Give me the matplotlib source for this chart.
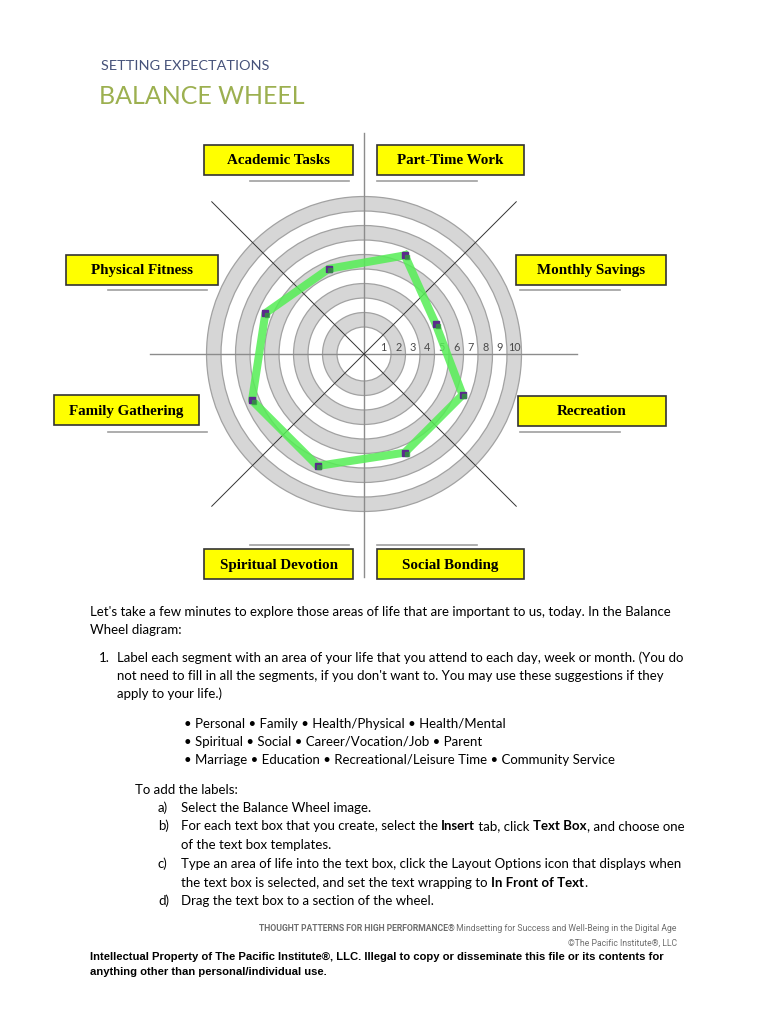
import matplotlib

matplotlib.use("Agg")

import matplotlib.pyplot as plt
import numpy as np
from matplotlib.patches import Circle, Rectangle

# wheel data: sectors clockwise from 12 o'clock, score 1-10 per sector
categories = [
    "Part-Time Work",
    "Monthly Savings",
    "Recreation",
    "Social Bonding",
    "Spiritual Devotion",
    "Family Gathering",
    "Physical Fitness",
    "Academic Tasks",
]
scores = [7, 5, 7, 7, 8, 8, 7, 6]
ring_numbers = [1, 2, 3, 4, 5, 6, 7, 8, 9, 10]

title_small = "SETTING EXPECTATIONS"
title_big = "BALANCE WHEEL"

intro_lines = [
    "Let's take a few minutes to explore those areas of life that are important to us, today. In the Balance",
    "Wheel diagram:",
]
item1_lines = [
    "Label each segment with an area of your life that you attend to each day, week or month. (You do",
    "not need to fill in all the segments, if you don't want to. You may use these suggestions if they",
    "apply to your life.)",
]
suggestion_lines = [
    "\u2022 Personal \u2022 Family \u2022 Health/Physical \u2022 Health/Mental",
    "\u2022 Spiritual \u2022 Social \u2022 Career/Vocation/Job \u2022 Parent",
    "\u2022 Marriage \u2022 Education \u2022 Recreational/Leisure Time \u2022 Community Service",
]
steps_heading = "To add the labels:"
# each step: marker, list of lines, each line a list of (text, bold)
steps = [
    ("a)", [[("Select the Balance Wheel image.", False)]]),
    ("b)", [[("For each text box that you create, select the ", False), ("Insert", True),
             (" tab, click ", False), ("Text Box", True), (", and choose one", False)],
            [("of the text box templates.", False)]]),
    ("c)", [[("Type an area of life into the text box, click the Layout Options icon that displays when", False)],
            [("the text box is selected, and set the text wrapping to ", False), ("In Front of Text", True),
             (".", False)]]),
    ("d)", [[("Drag the text box to a section of the wheel.", False)]]),
]
footer_brand = [("THOUGHT PATTERNS FOR HIGH PERFORMANCE\u00ae", True),
                (" Mindsetting for Success and Well-Being in the Digital Age", False)]
footer_owner = "\u00a9The Pacific Institute\u00ae, LLC"
legal_lines = [
    "Intellectual Property of The Pacific Institute\u00ae, LLC. Illegal to copy or disseminate this file or its contents for",
    "anything other than personal/individual use.",
]

# label box layout in page pixels: centre x, centre y, width, rule y, rule x0, rule x1
box_layout = {
    "Academic Tasks": (278.5, 159.5, 149, 181, 250, 349),
    "Part-Time Work": (450.5, 160, 147, 181, 377, 477),
    "Monthly Savings": (591, 269.5, 150, 290, 520, 620),
    "Recreation": (592, 410.5, 148, 432, 520, 620),
    "Social Bonding": (450.5, 564, 147, 545, 377, 477),
    "Spiritual Devotion": (278.5, 564, 149, 545, 250, 349),
    "Family Gathering": (126.5, 410, 145, 432, 108, 207),
    "Physical Fitness": (142, 269.5, 152, 290, 108, 207),
}

W, H = 768, 1024
BODY = ["Lato", "DejaVu Sans"]
BODY_SIZE = 9.5

fig = plt.figure(figsize=(W / 100, H / 100), dpi=100)
fig.patch.set_facecolor("white")
page = fig.add_axes([0, 0, 1, 1])
page.set_xlim(0, W)
page.set_ylim(H, 0)
page.axis("off")
renderer = fig.canvas.get_renderer()


def text_width(s, **kw):
    # width in page px, trailing spaces included via a sentinel char
    t1 = page.text(0, 0, s + "|", **kw)
    t2 = page.text(0, 0, "|", **kw)
    w = t1.get_window_extent(renderer).width - t2.get_window_extent(renderer).width
    t1.remove()
    t2.remove()
    return w


def draw_runs(x, y, runs, size, family, color="black", align="left"):
    widths = [text_width(s, fontsize=size, family=family,
                         fontweight="bold" if b else "normal") for s, b in runs]
    if align == "right":
        x = x - sum(widths)
    for (s, b), w in zip(runs, widths):
        page.text(x, y, s, fontsize=size, family=family, color=color,
                  fontweight="bold" if b else "normal", va="baseline")
        x += w


# title
page.text(101, 70, title_small, fontsize=10.4, family=["Lato", "DejaVu Sans"],
          color="#46527a", va="baseline")
page.text(99, 104, title_big, fontsize=18, family=["Lato", "DejaVu Sans"],
          color="#9cb050", va="baseline")

# wheel
cx, cy, unit = 364, 354, 14.5
x0, x1, y0, y1 = 140, 590, 130, 580
wheel = fig.add_axes([x0 / W, 1 - y1 / H, (x1 - x0) / W, (y1 - y0) / H])
wheel.set_xlim((x0 - cx) / unit, (x1 - cx) / unit)
wheel.set_ylim((cy - y1) / unit, (cy - y0) / unit)
wheel.axis("off")

offset = 0.86
for k in ring_numbers[::-1]:
    fc = "#d6d6d6" if k % 2 == 0 else "white"
    wheel.add_patch(Circle((0, 0), k + offset, facecolor=fc, edgecolor="#a2a2a2",
                           lw=0.9, zorder=1))
for k in ring_numbers:
    wheel.text(k + offset - 0.5, 0.1, str(k), fontsize=7.8, color="#4a4a4a",
               ha="center", va="bottom", family=["Lato", "DejaVu Sans"], zorder=3)

wheel.plot([0, 0], [(cy - 577) / unit, (cy - 133) / unit], color="#8c8c8c", lw=1.0, zorder=2)
wheel.plot([(150 - cx) / unit, (577 - cx) / unit], [0, 0], color="#8c8c8c", lw=1.0, zorder=2)
d = 10.5
wheel.plot([-d, d], [d, -d], color="#333333", lw=0.7, zorder=2)
wheel.plot([-d, d], [-d, d], color="#333333", lw=0.7, zorder=2)

angles = np.deg2rad(22.5 + 45 * np.arange(len(categories)))
radii = np.array(scores) + offset - 0.5
px = radii * np.sin(angles)
py = radii * np.cos(angles)
wheel.plot(np.append(px, px[0]), np.append(py, py[0]), color="#55ee55", alpha=0.85,
           lw=5.8, solid_joinstyle="round", zorder=4)
wheel.plot(px, py, ls="none", marker="s", ms=5, color="#5b2a8c", zorder=5)
wheel.plot(px + 0.12, py - 0.1, ls="none", marker="s", ms=3.5, color="#2f9e3a",
           alpha=0.7, zorder=6)

# label boxes
for name in categories:
    bx, by, bw, ry, rx0, rx1 = box_layout[name]
    bh = 30
    page.add_patch(Rectangle((bx - bw / 2, by - bh / 2), bw, bh, facecolor="#ffff00",
                             edgecolor="#333333", lw=1.2))
    page.text(bx, by + 1, name, fontsize=10.8, fontweight="bold",
              family=["Liberation Serif", "DejaVu Serif"], ha="center", va="center")
    page.plot([rx0, rx1], [ry, ry], color="#a0a0a0", lw=1.2)

# body text
base = 4.5
for i, line in enumerate(intro_lines):
    page.text(90, 611 + 18 * i + base, line, fontsize=BODY_SIZE, family=BODY, va="baseline")
page.text(99, 658 + base, "1.", fontsize=BODY_SIZE, family=BODY, va="baseline")
for i, line in enumerate(item1_lines):
    page.text(117, 658 + 18 * i + base, line, fontsize=BODY_SIZE, family=BODY, va="baseline")
for i, line in enumerate(suggestion_lines):
    page.text(184, 723 + 18.5 * i + base, line, fontsize=BODY_SIZE, family=BODY, va="baseline")
page.text(135, 789 + base, steps_heading, fontsize=BODY_SIZE, family=BODY, va="baseline")

y = 807
for marker, lines in steps:
    page.text(158, y + base, marker, fontsize=BODY_SIZE, family=BODY, va="baseline")
    for runs in lines:
        draw_runs(181, y + base, runs, BODY_SIZE, BODY)
        y += 18.8

# footer
draw_runs(677, 931, footer_brand, 6.2, ["Roboto", "DejaVu Sans"], color="#6e6e6e", align="right")
draw_runs(677, 946, [(footer_owner, False)], 6.2, ["Roboto", "DejaVu Sans"], color="#6e6e6e",
          align="right")
for i, line in enumerate(legal_lines):
    page.text(90, 960 + 15 * i, line, fontsize=8.1, fontweight="bold",
              family=["Liberation Sans", "DejaVu Sans"], va="baseline")

fig.savefig("out.png", dpi=100, facecolor="white")
